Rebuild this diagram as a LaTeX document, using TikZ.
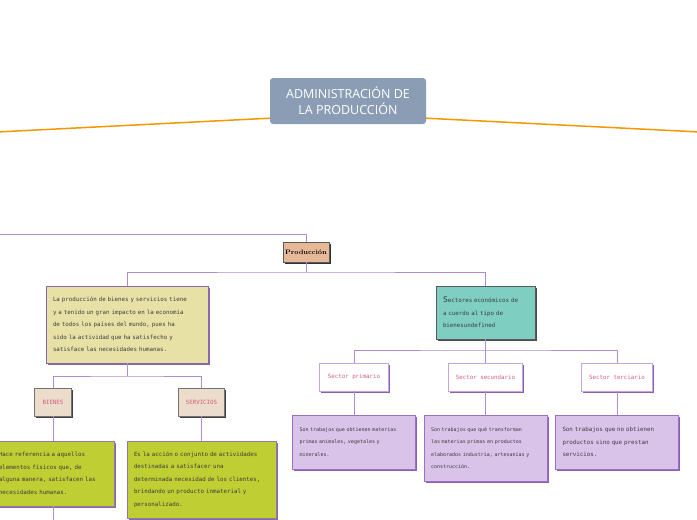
\documentclass[tikz,border=0pt]{standalone}
\usepackage{fontspec}
\newfontfamily\titlefont{Open Sans}
\newfontfamily\boxfont{DejaVu Sans Mono}
\usetikzlibrary{shadows}

\definecolor{titlegray}{RGB}{139,157,181}
\definecolor{branchorange}{RGB}{245,152,0}
\definecolor{linkpurple}{RGB}{178,140,206}
\definecolor{peach}{RGB}{229,184,152}
\definecolor{khaki}{RGB}{232,225,166}
\definecolor{teal}{RGB}{127,206,194}
\definecolor{lilac}{RGB}{217,195,233}
\definecolor{lilacedge}{RGB}{155,114,192}
\definecolor{lilacshadow}{RGB}{139,95,181}
\definecolor{sectoredge}{RGB}{199,166,221}
\definecolor{rosetext}{RGB}{214,95,122}
\definecolor{cream}{RGB}{236,220,203}
\definecolor{lime}{RGB}{191,206,51}
\definecolor{notetext}{RGB}{60,60,60}

\tikzset{
  link/.style={draw=linkpurple, line width=0.8pt},
  branch/.style={draw=branchorange, line width=1.5pt},
  mainbox/.style={fill=titlegray, rounded corners=3pt, text=white, align=center,
    font=\titlefont\fontsize{12.5}{16}\selectfont, minimum width=156pt, minimum height=46pt, inner sep=0pt},
  prodbox/.style={draw=black!65, fill=peach, line width=0.6pt, minimum width=46pt, minimum height=20pt,
    inner sep=0pt, font=\bfseries\fontsize{6.5}{8}\selectfont,
    drop shadow={shadow xshift=1.8pt, shadow yshift=-1.8pt, fill=black!80, opacity=1}},
  notebox/.style={align=left, inner xsep=7pt, inner ysep=0pt, line width=0.7pt, text=notetext,
    font=\boxfont\fontsize{5.8}{12.5}\selectfont},
  labelbox/.style={align=center, inner sep=0pt, minimum height=28pt, text=rosetext, line width=0.7pt,
    font=\boxfont\fontsize{5.8}{8}\selectfont},
  sectorbox/.style={labelbox, draw=sectoredge, fill=white,
    drop shadow={shadow xshift=1.8pt, shadow yshift=-1.8pt, fill=lilacshadow, opacity=1}},
  kindbox/.style={labelbox, draw=black!55, fill=cream,
    drop shadow={shadow xshift=1.8pt, shadow yshift=-1.8pt, fill=black!75, opacity=1}},
  yellownote/.style={notebox, draw=lilacedge!90!black, fill=khaki,
    drop shadow={shadow xshift=1.8pt, shadow yshift=-1.8pt, fill=lilacshadow!70!gray, opacity=1}},
  tealnote/.style={notebox, draw=black!65, fill=teal,
    drop shadow={shadow xshift=1.8pt, shadow yshift=-1.8pt, fill=black!70, opacity=1}},
  lilacnote/.style={notebox, draw=lilacedge, fill=lilac, font=\boxfont\fontsize{5}{12.5}\selectfont,
    drop shadow={shadow xshift=1.8pt, shadow yshift=-1.8pt, fill=lilacshadow, opacity=1}},
  limenote/.style={notebox, draw=lilacedge!70!gray, fill=lime,
    drop shadow={shadow xshift=1.8pt, shadow yshift=-1.8pt, fill=lilacshadow!50!gray, opacity=1}},
}

\begin{document}
\begin{tikzpicture}[x=1pt,y=-1pt]
    \useasboundingbox (0,0) rectangle (697,520);
    \fill[white] (0,0) rectangle (697,520);
    \clip (0,0) rectangle (697,520);

    % Central topic and its two branches:
    \node[mainbox] (admin) at (348,101) {ADMINISTRACIÓN DE\\LA PRODUCCIÓN};
    \coordinate (offwest) at (-3,132);
    \coordinate (offeast) at (700,132);
    \draw[branch] ([yshift=6pt]admin.south west) .. controls (135,125) .. (offwest);
    \draw[branch] ([yshift=6pt]admin.south east) .. controls (561,125) .. (offeast);

    % Production and its two notes:
    \node[prodbox] (prod) at (306,252) {Producción};
    \node[yellownote, text width=148pt, minimum height=77pt] (prodtext) at (127,324.5)
      {La producción de bienes y servicios tiene\\
       y a tenido un gran impacto en la economía\\
       de todos los países del mundo, pues ha\\
       sido la actividad que ha satisfecho y\\
       satisface las necesidades humanas.};
    \node[tealnote, text width=85pt, minimum height=53pt] (sectors) at (485.5,312.5)
      {{\fontsize{8}{12.5}\selectfont S}ectores económicos de\\
       a cuerdo al tipo de\\
       bienesundefined};

    % Sectors:
    \node[sectorbox, minimum width=69pt] (primario) at (354,377) {Sector primario};
    \node[sectorbox, minimum width=74pt] (secundario) at (485.5,377) {Sector secundario};
    \node[sectorbox, minimum width=71pt] (terciario) at (617,377) {Sector terciario};

    \node[lilacnote, text width=109pt, minimum height=54pt] (primtext) at (354,442)
      {Son trabajos que obtienen materias\\
       primas animales, vegetales y\\
       minerales.};
    \node[lilacnote, text width=109pt, minimum height=66pt] (secutext) at (485.5,448)
      {Son trabajos que qué transforman\\
       las materias primas en productos\\
       elaborados industria, artesanías y\\
       construcción.};
    \node[lilacnote, text width=109pt, minimum height=54pt, font=\boxfont\fontsize{5.8}{12.5}\selectfont]
      (tercitext) at (617,442)
      {Son trabajos que no obtienen\\
       productos sino que prestan\\
       servicios.};

    % Goods and services:
    \node[kindbox, minimum width=37pt] (bienes) at (53,402) {BIENES};
    \node[kindbox, minimum width=46pt] (servicios) at (201.5,402) {SERVICIOS};

    \node[limenote, text width=108pt, minimum height=65pt] (fisicos) at (53,473.5)
      {Hace referencia a aquellos\\
       elementos físicos que, de\\
       alguna manera, satisfacen las\\
       necesidades humanas.};
    \node[limenote, text width=135pt, minimum height=77pt] (intangible) at (201.5,479.5)
      {Es la acción o conjunto de actividades\\
       destinadas a satisfacer una\\
       determinada necesidad de los clientes,\\
       brindando un producto inmaterial y\\
       personalizado.};

    % Connectors:
    \coordinate (offleft) at (-5,234);
    \coordinate (forkprod) at (306,272);
    \coordinate (forksect) at (485.5,350);
    \coordinate (forkkind) at (127,376);
    \coordinate (offbottom) at (53,525);

    \draw[link] (offleft) -| (prod.north);
    \draw[link] (prod.south) -- (forkprod);
    \draw[link] (prodtext.north) |- (forkprod) -| (sectors.north);

    \draw[link] (sectors.south) -- (forksect);
    \draw[link] (primario.north) |- (forksect) -| (terciario.north);
    \draw[link] (forksect) -- (secundario.north);
    \draw[link] (primario.south) -- (primtext.north);
    \draw[link] (secundario.south) -- (secutext.north);
    \draw[link] (terciario.south) -- (tercitext.north);

    \draw[link] (prodtext.south) -- (forkkind);
    \draw[link] (bienes.north) |- (forkkind) -| (servicios.north);
    \draw[link] (bienes.south) -- (fisicos.north);
    \draw[link] (servicios.south) -- (intangible.north);
    \draw[link] (fisicos.south) -- (offbottom);
\end{tikzpicture}
\end{document}
